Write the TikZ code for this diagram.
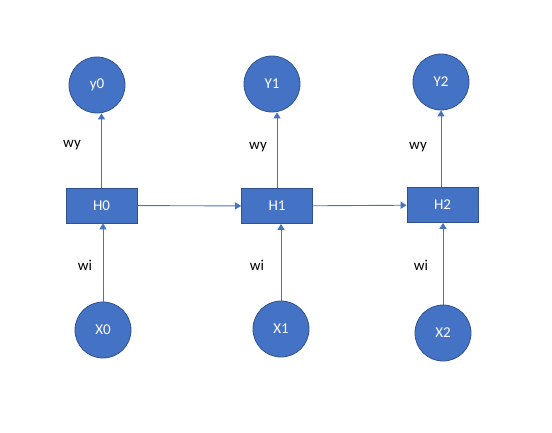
\documentclass[tikz,border=0pt]{standalone}
\usepackage{fontspec}
\setmainfont{Carlito}
\usetikzlibrary{arrows.meta}
\definecolor{officeBlue}{HTML}{4472C4}
\definecolor{officeEdge}{HTML}{2F528F}

\begin{document}
\begin{tikzpicture}[x=1pt,y=-1pt,%%
  lineStyle/.style={-{Triangle[width=7pt,length=6pt]},officeBlue,line width=0.9pt},%%
  circleStyle/.style={draw=officeEdge,fill=officeBlue,circle,minimum size=56pt,
    inner sep=0pt,line width=0.8pt,text=white,font=\fontsize{15}{17}\selectfont},%%
  boxStyle/.style={draw=officeEdge,fill=officeBlue,rectangle,minimum width=71pt,
    minimum height=35pt,inner sep=0pt,line width=0.8pt,text=white,
    font=\fontsize{15}{17}\selectfont},%%
  labelStyle/.style={text=black,font=\fontsize{15}{17}\selectfont}
]
%%
%% The canvas.
\useasboundingbox (0,0) rectangle (552,432);
%%
%% Output nodes.
\node[circleStyle] (y0) at (97,85) {y0};
\node[circleStyle] (Y1) at (272,84) {Y1};
\node[circleStyle] (Y2) at (441,82) {Y2};
%%
%% Hidden states.
\node[boxStyle] (H0) at (101.5,205.5) {H0};
\node[boxStyle] (H1) at (277,206) {H1};
\node[boxStyle] (H2) at (442.5,205) {H2};
%%
%% Input nodes.
\node[circleStyle] (X0) at (103,330) {X0};
\node[circleStyle] (X1) at (281,329) {X1};
\node[circleStyle] (X2) at (443,333) {X2};
%%
%% Weight labels.
\node[labelStyle] (wy0) at (72,145) {wy};
\node[labelStyle] (wy1) at (258,147) {wy};
\node[labelStyle] (wy2) at (418,147) {wy};
\node[labelStyle] (wi0) at (85,265) {wi};
\node[labelStyle] (wi1) at (257,265) {wi};
\node[labelStyle] (wi2) at (421,265) {wi};
%%
%% Input to hidden.
\draw[lineStyle] (X0.north) -- (X0.north |- H0.south);
\draw[lineStyle] (X1.north) -- (X1.north |- H1.south);
\draw[lineStyle] (X2.north) -- (X2.north |- H2.south);
%%
%% Hidden to output.
\draw[lineStyle] (H0.north) -- (H0.north |- y0.south);
\draw[lineStyle] (H1.north) -- (H1.north |- Y1.south);
\draw[lineStyle] (Y2.south |- H2.north) -- (Y2.south);
%%
%% Hidden to hidden.
\draw[lineStyle] (H0) -- (H1);
\draw[lineStyle] (H1) -- (H2);
\end{tikzpicture}
\end{document}
